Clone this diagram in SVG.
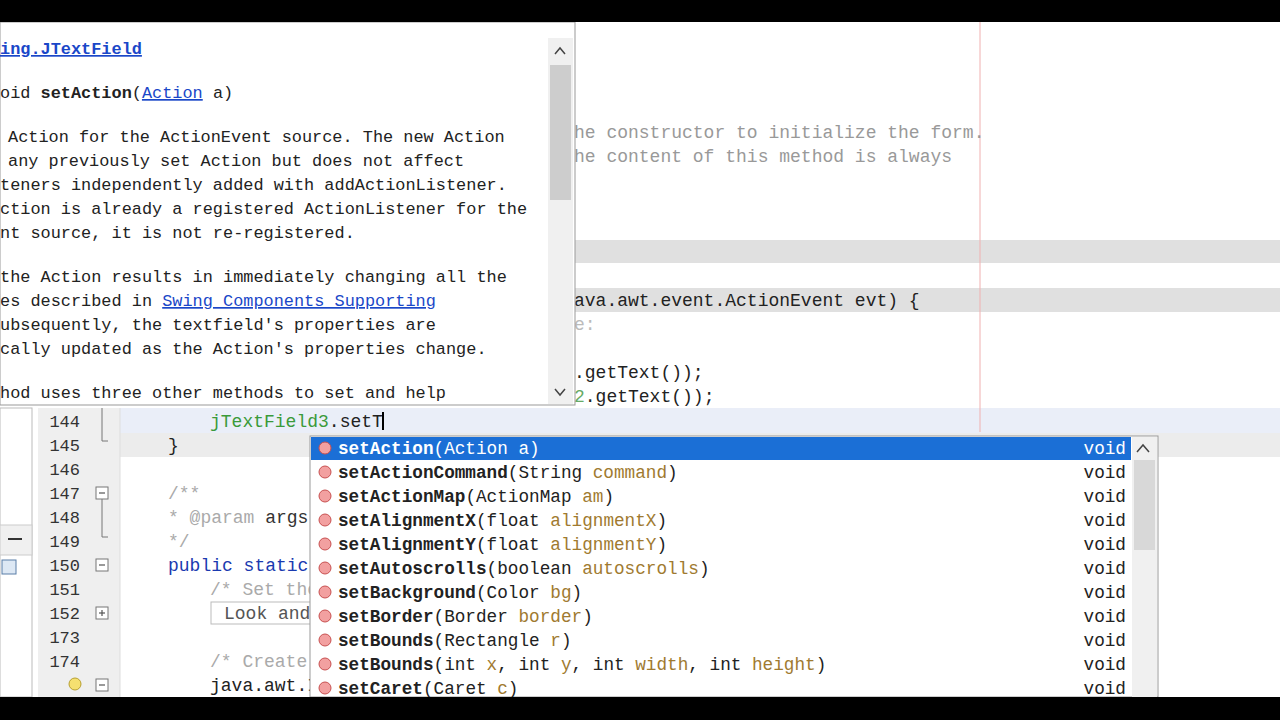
<svg xmlns="http://www.w3.org/2000/svg" width="1280" height="720" viewBox="0 0 1280 720">
<style>
.m{font-family:"Liberation Mono","DejaVu Sans Mono",monospace;font-size:18px;fill:#222}
.d{font-family:"Liberation Mono","DejaVu Sans Mono",monospace;font-size:16.9px;fill:#222}
.ln{font-family:"Liberation Mono",monospace;font-size:17px;fill:#333;text-anchor:end}
.lk{fill:#1a47c8;text-decoration:underline}
.b{font-weight:bold}
.c{font-family:"Liberation Mono",monospace;font-size:17.7px;fill:#222}
.ty{fill:#a07a30}
.v{font-family:"Liberation Mono",monospace;font-size:17.7px;fill:#222;text-anchor:end}
.dot{fill:#f2a0a0;stroke:#c85050;stroke-width:1}
</style>
<rect width="1280" height="720" fill="#fff"/>
<g id="editor">
<rect x="575" y="240" width="705" height="23" fill="#e0e0e0"/>
<rect x="575" y="288" width="705" height="24" fill="#e0e0e0"/>
<rect x="120" y="408" width="1160" height="25" fill="#eaeef8"/>
<rect x="120" y="433" width="1160" height="24" fill="#ececec"/>
<line x1="980" y1="22" x2="980" y2="432" stroke="#f0b0b0"/>
<text class="m" x="574" y="138" style="fill:#999">he constructor to initialize the form.</text>
<text class="m" x="574" y="162" style="fill:#999">he content of this method is always</text>
<text class="m" x="574" y="306">ava.awt.event.ActionEvent evt) {</text>
<text class="m" x="574" y="330" style="fill:#bbb">e:</text>
<text class="m" x="574" y="378">.getText());</text>
<text class="m" x="574" y="402"><tspan fill="#6a6">2</tspan>.getText());</text>
<rect x="0" y="408" width="32" height="289" fill="#fff" stroke="#bbb"/>
<rect x="0" y="525" width="32" height="30" fill="#f0f0f0" stroke="#ccc"/>
<line x1="8" y1="539" x2="22" y2="539" stroke="#333" stroke-width="2"/>
<rect x="2" y="560" width="14" height="14" fill="#dde8f4" stroke="#5a7fa8"/>
<rect x="38" y="408" width="82" height="289" fill="#efefef"/>
<line x1="120" y1="408" x2="120" y2="697" stroke="#ddd"/>
<text class="ln" x="80" y="427">144</text><text class="ln" x="80" y="451">145</text>
<text class="ln" x="80" y="475">146</text><text class="ln" x="80" y="499">147</text>
<text class="ln" x="80" y="523">148</text><text class="ln" x="80" y="547">149</text>
<text class="ln" x="80" y="571">150</text><text class="ln" x="80" y="595">151</text>
<text class="ln" x="80" y="619">152</text><text class="ln" x="80" y="643">173</text>
<text class="ln" x="80" y="667">174</text>
<g fill="#fff" stroke="#777">
<path d="M102 408 V441 H108" fill="none"/>
<rect x="96" y="487" width="12" height="12"/><path d="M102 499 V537 H108" fill="none"/>
<rect x="96" y="559" width="12" height="12"/>
<rect x="96" y="607" width="12" height="12"/>
<rect x="96" y="679" width="12" height="12"/>
</g>
<g stroke="#555" stroke-width="1.2"><line x1="99" y1="493" x2="105" y2="493"/><line x1="99" y1="565" x2="105" y2="565"/><line x1="99" y1="613" x2="105" y2="613"/><line x1="102" y1="610" x2="102" y2="616"/><line x1="99" y1="685" x2="105" y2="685"/></g>
<circle cx="75" cy="684" r="6" fill="#f5e070" stroke="#b8a030"/>
<text class="m" x="210" y="427"><tspan fill="#3a9a3a">jTextField3</tspan>.setT</text>
<line x1="383" y1="412" x2="383" y2="430" stroke="#000" stroke-width="2"/>
<text class="m" x="168" y="451">}</text>
<text class="m" x="168" y="499" style="fill:#aaa">/**</text>
<text class="m" x="168" y="523" style="fill:#aaa"> * @param <tspan fill="#333">args</tspan></text>
<text class="m" x="168" y="547" style="fill:#aaa"> */</text>
<text class="m" x="168" y="571" style="fill:#1a3ab0">public static</text>
<text class="m" x="210" y="595" style="fill:#aaa">/* Set the</text>
<rect x="211" y="602" width="110" height="22" fill="none" stroke="#bbb"/>
<text class="m" x="224" y="619" style="fill:#555">Look and</text>
<text class="m" x="210" y="667" style="fill:#aaa">/* Create</text>
<text class="m" x="210" y="691">java.awt.I</text>
</g>
<g id="javadoc">
<rect x="0" y="22" width="575" height="383" fill="#fff" stroke="#999"/>
<rect x="548" y="38" width="25" height="366" fill="#f0f0f0"/>
<rect x="550" y="65" width="21" height="135" fill="#cdcdcd"/>
<path d="M555 54 L560 48 L565 54" fill="none" stroke="#444" stroke-width="1.5"/>
<path d="M555 389 L560 395 L565 389" fill="none" stroke="#444" stroke-width="1.5"/>
<text class="d b" x="0" y="54"><tspan class="lk">ing.JTextField</tspan></text>
<text class="d" x="0" y="98">oid <tspan class="b">setAction</tspan>(<tspan class="lk">Action</tspan> a)</text>
<text class="d" x="8" y="142">Action for the ActionEvent source. The new Action</text>
<text class="d" x="8" y="166"> any previously set Action but does not affect</text>
<text class="d" x="0" y="190">teners independently added with addActionListener.</text>
<text class="d" x="0" y="214">ction is already a registered ActionListener for the</text>
<text class="d" x="0" y="238">nt source, it is not re-registered.</text>
<text class="d" x="0" y="282">the Action results in immediately changing all the</text>
<text class="d" x="0" y="306">es described in <tspan class="lk">Swing Components Supporting</tspan></text>
<text class="d" x="0" y="330">ubsequently, the textfield's properties are</text>
<text class="d" x="0" y="354">cally updated as the Action's properties change.</text>
<text class="d" x="0" y="398">hod uses three other methods to set and help</text>
</g>
<g id="completion">
<rect x="310" y="436" width="848" height="261" fill="#fff" stroke="#999"/>
<rect x="311" y="437" width="820" height="23" fill="#1b6fd6"/>
<rect x="1132" y="437" width="25" height="260" fill="#f0f0f0"/>
<rect x="1134" y="460" width="21" height="90" fill="#d8d8d8"/>
<path d="M1137 452 L1143 445 L1149 452" fill="none" stroke="#444" stroke-width="1.5"/>
<circle class="dot" cx="325" cy="448" r="6"/><circle class="dot" cx="325" cy="472" r="6"/>
<circle class="dot" cx="325" cy="496" r="6"/><circle class="dot" cx="325" cy="520" r="6"/>
<circle class="dot" cx="325" cy="544" r="6"/><circle class="dot" cx="325" cy="568" r="6"/>
<circle class="dot" cx="325" cy="592" r="6"/><circle class="dot" cx="325" cy="616" r="6"/>
<circle class="dot" cx="325" cy="640" r="6"/><circle class="dot" cx="325" cy="664" r="6"/>
<circle class="dot" cx="325" cy="688" r="6"/>
<text class="c" x="338" y="454" style="fill:#fff"><tspan class="b">setAction</tspan>(Action a)</text>
<text class="c" x="338" y="478"><tspan class="b">setActionCommand</tspan>(String <tspan class="ty">command</tspan>)</text>
<text class="c" x="338" y="502"><tspan class="b">setActionMap</tspan>(ActionMap <tspan class="ty">am</tspan>)</text>
<text class="c" x="338" y="526"><tspan class="b">setAlignmentX</tspan>(float <tspan class="ty">alignmentX</tspan>)</text>
<text class="c" x="338" y="550"><tspan class="b">setAlignmentY</tspan>(float <tspan class="ty">alignmentY</tspan>)</text>
<text class="c" x="338" y="574"><tspan class="b">setAutoscrolls</tspan>(boolean <tspan class="ty">autoscrolls</tspan>)</text>
<text class="c" x="338" y="598"><tspan class="b">setBackground</tspan>(Color <tspan class="ty">bg</tspan>)</text>
<text class="c" x="338" y="622"><tspan class="b">setBorder</tspan>(Border <tspan class="ty">border</tspan>)</text>
<text class="c" x="338" y="646"><tspan class="b">setBounds</tspan>(Rectangle <tspan class="ty">r</tspan>)</text>
<text class="c" x="338" y="670"><tspan class="b">setBounds</tspan>(int <tspan class="ty">x</tspan>, int <tspan class="ty">y</tspan>, int <tspan class="ty">width</tspan>, int <tspan class="ty">height</tspan>)</text>
<text class="c" x="338" y="694"><tspan class="b">setCaret</tspan>(Caret <tspan class="ty">c</tspan>)</text>
<text class="v" x="1126" y="454" style="fill:#fff">void</text>
<text class="v" x="1126" y="478">void</text><text class="v" x="1126" y="502">void</text>
<text class="v" x="1126" y="526">void</text><text class="v" x="1126" y="550">void</text>
<text class="v" x="1126" y="574">void</text><text class="v" x="1126" y="598">void</text>
<text class="v" x="1126" y="622">void</text><text class="v" x="1126" y="646">void</text>
<text class="v" x="1126" y="670">void</text><text class="v" x="1126" y="694">void</text>
</g>
<rect x="0" y="0" width="1280" height="22" fill="#000"/>
<rect x="0" y="697" width="1280" height="23" fill="#000"/>
</svg>
